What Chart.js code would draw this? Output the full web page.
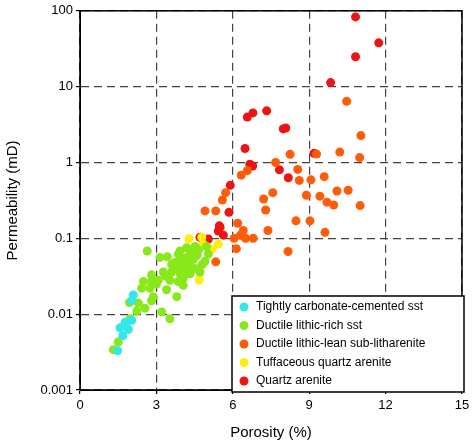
<!DOCTYPE html>
<html><head><script src="https://cdn.jsdelivr.net/npm/chart.js@4"></script>
<style>body{margin:0;background:#fff}#w{width:474px;height:446px}</style></head>
<body><div id="w"><canvas id="c"></canvas></div>
<script>
const seriesNames=["Tightly carbonate-cemented sst","Ductile lithic-rich sst","Ductile lithic-lean sub-litharenite","Tuffaceous quartz arenite","Quartz arenite"];
const seriesColors=["#33e8e8","#88e81a","#ff5c0a","#ffee10","#ee1414"];
const xTicks=[0,3,6,9,12,15];
const yTicks=[0.001,0.01,0.1,1,10,100];
const cyanPts=[[2.09,0.0179],[2.03,0.0151],[1.77,0.0078],[2.03,0.0083],[1.57,0.0066],[1.9,0.0063],[1.68,0.0052],[1.48,0.0033],[1.8,0.0072]];
const greenPts=[[2.64,0.068],[3.14,0.056],[3.43,0.057],[3.93,0.068],[3.86,0.062],[4.19,0.075],[4.52,0.078],[4.19,0.056],[4.45,0.053],[3.73,0.048],[3.93,0.044],[4.19,0.042],[4.52,0.04],[4.32,0.034],[3.93,0.034],[3.6,0.036],[3.27,0.036],[3.53,0.028],[3.86,0.027],[4.06,0.03],[4.71,0.036],[4.91,0.05],[5.04,0.062],[4.97,0.078],[3.07,0.028],[2.81,0.033],[2.81,0.027],[2.49,0.027],[2.42,0.022],[2.75,0.022],[3.4,0.021],[3.8,0.017],[2.88,0.017],[2.81,0.015],[2.29,0.014],[2.55,0.012],[2.23,0.011],[3.21,0.0107],[3.53,0.0087],[1.96,0.0087],[1.5,0.0043],[1.31,0.0034],[1.94,0.0142],[4.0,0.05],[4.1,0.038],[3.7,0.04],[4.3,0.046],[3.6,0.045],[4.6,0.06],[3.95,0.055],[4.35,0.065],[3.35,0.032],[4.8,0.045],[3.0,0.025],[4.05,0.024],[4.65,0.07]];
const orangePts=[[10.47,6.4],[11.03,2.26],[10.2,1.37],[10.98,1.16],[8.25,1.28],[9.29,1.29],[7.68,1.0],[6.57,0.78],[6.33,0.68],[8.55,0.81],[8.61,0.58],[9.07,0.59],[9.59,0.65],[5.72,0.4],[7.57,0.4],[5.59,0.32],[7.21,0.33],[8.89,0.37],[9.42,0.36],[10.09,0.42],[10.53,0.43],[9.7,0.3],[9.96,0.275],[11.0,0.27],[4.91,0.23],[5.33,0.23],[7.29,0.236],[6.19,0.158],[8.48,0.17],[9.03,0.17],[7.38,0.127],[9.62,0.12],[6.41,0.127],[6.5,0.1],[6.8,0.1],[6.05,0.1],[6.14,0.073],[8.17,0.067],[5.33,0.049],[6.3,0.11]];
const yellowPts=[[4.28,0.0986],[4.78,0.103],[4.84,0.0835],[5.17,0.0717],[5.43,0.0835],[4.68,0.0282]];
const redPts=[[10.82,83],[11.73,37.8],[10.82,24.8],[9.84,11.3],[7.33,4.8],[6.57,3.97],[6.79,4.5],[7.98,2.77],[8.08,2.85],[6.48,1.53],[9.19,1.32],[6.67,0.95],[6.78,0.9],[7.83,0.8],[8.18,0.63],[5.9,0.5],[5.85,0.22],[5.47,0.146],[5.43,0.125],[5.63,0.11],[5.5,0.14],[4.71,0.103],[5.04,0.098]];
const allPts=[cyanPts,greenPts,orangePts,yellowPts,redPts];

const boxPlugin={id:'box',afterDraw(ch){
  const {ctx,chartArea:a}=ch;ctx.save();
  ctx.strokeStyle='#000';ctx.lineWidth=1.5;ctx.strokeRect(a.left,a.top,a.right-a.left,a.bottom-a.top);
  const lx=232,ly=296,lw=232,lh=96;
  ctx.fillStyle='#fff';ctx.fillRect(lx,ly,lw,lh);
  ctx.lineWidth=1.5;ctx.strokeRect(lx,ly,lw,lh);
  ctx.font='12px "Liberation Sans", Arial';ctx.textBaseline='middle';
  seriesNames.forEach((n,i)=>{const y=ly+11+i*18.5;
    ctx.fillStyle=seriesColors[i];ctx.beginPath();ctx.arc(lx+12,y,4.5,0,Math.PI*2);ctx.fill();
    ctx.fillStyle='#000';ctx.fillText(n,lx+24,y);});
  ctx.restore();}};

new Chart(document.getElementById('c'),{type:'scatter',
 data:{datasets:allPts.map((p,i)=>({label:seriesNames[i],data:p.map(([x,y])=>({x,y})),backgroundColor:seriesColors[i],borderWidth:0,pointRadius:4.5}))},
 options:{responsive:true,maintainAspectRatio:false,animation:false,
  layout:{padding:{top:8,right:12,left:0,bottom:0}},
  plugins:{legend:{display:false},tooltip:{enabled:false}},
  scales:{
   x:{type:'linear',min:0,max:15,afterBuildTicks(s){s.ticks=xTicks.map(v=>({value:v}));},
      afterFit(s){s.height=56;},
      ticks:{color:'#000',font:{size:13,family:'"Liberation Sans", Arial'},padding:4},
      grid:{color:'#444',lineWidth:1.2,drawTicks:true,tickLength:4,tickColor:'#000'},
      border:{display:true,color:'#000',dash:[8,5],width:1},
      title:{display:true,text:'Porosity (%)',color:'#000',font:{size:15,family:'"Liberation Sans", Arial'},padding:{top:2}}},
   y:{type:'logarithmic',min:0.001,max:100,afterBuildTicks(s){s.ticks=yTicks.map(v=>({value:v}));},
      afterFit(s){s.width=80;},
      ticks:{color:'#000',font:{size:13,family:'"Liberation Sans", Arial'},callback:v=>String(v)},
      grid:{color:'#444',lineWidth:1.2,tickLength:4,tickColor:'#000'},
      border:{display:true,color:'#000',dash:[8,5]},
      title:{display:true,text:'Permeability (mD)',color:'#000',font:{size:15,family:'"Liberation Sans", Arial'}}}
  }},
 plugins:[boxPlugin]});
</script></body></html>
